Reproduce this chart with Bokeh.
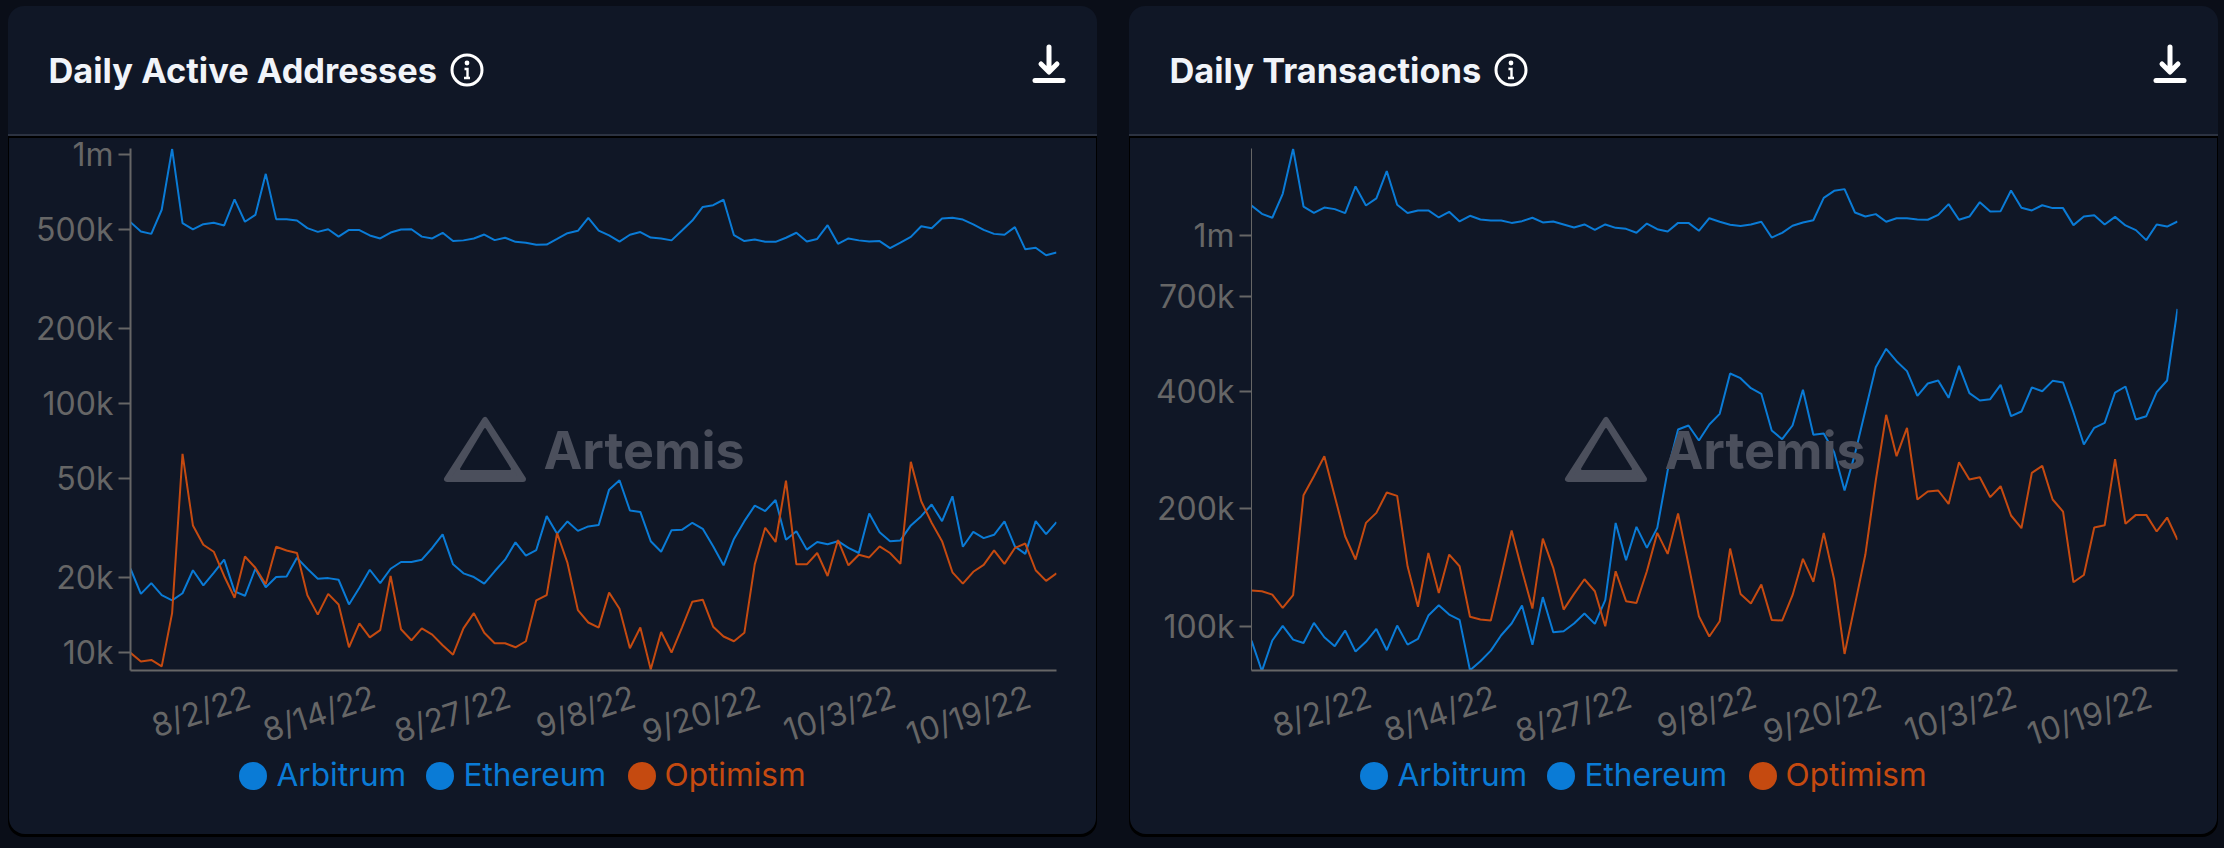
import math
from urllib.parse import quote
from bokeh.embed import file_html
from bokeh.resources import INLINE
from bokeh.layouts import row
from bokeh.plotting import figure
from bokeh.models import Label, FixedTicker

TITLES = ["Daily Active Addresses", "Daily Transactions"]
SERIES = ["Arbitrum", "Ethereum", "Optimism"]
DATE_TICKS = [11.4, 23.4, 36.4, 48.4, 60.4, 73.4, 86.4]
DATE_LABELS = ["8/2/22", "8/14/22", "8/27/22", "9/8/22", "9/20/22", "10/3/22", "10/19/22"]

addr_ticks = [10000, 20000, 50000, 100000, 200000, 500000, 1000000]
addr_labels = ["10k", "20k", "50k", "100k", "200k", "500k", "1m"]
tx_ticks = [100000, 200000, 400000, 700000, 1000000]
tx_labels = ["100k", "200k", "400k", "700k", "1m"]

addr_ethereum = [535000,491000,480000,600000,1054000,530000,500000,525000,532000,519000,660000,537000,572000,836000,550000,550000,543000,506000,489000,501000,468000,498000,497000,473000,460000,486000,500000,501000,468000,460000,485000,449000,452000,460000,477000,453000,463000,446000,442000,434000,435000,458000,483000,494000,557000,495000,473000,447000,476000,488000,464000,460000,452000,495000,543000,616000,626000,658000,474000,449000,456000,446000,446000,463000,485000,447000,458000,520000,438000,460000,452000,447000,449000,421000,443000,467000,515000,506000,553000,557000,548000,524000,498000,480000,476000,511000,416000,422000,394000,404000]
addr_arbitrum = [21700,17200,19000,17000,16200,17300,21400,18600,20900,23600,17600,16900,21700,18300,20100,20200,24000,21700,19800,19900,19600,15600,18200,21500,19000,21700,23100,23100,23600,26300,29800,22600,20800,20100,18900,21200,23600,27700,24500,25800,35300,30000,33600,30800,32100,32500,45100,49200,37200,36700,28000,25400,31000,31100,33200,31400,26700,22400,28600,33700,38900,37000,41000,28400,30700,25900,27800,27200,28000,26300,25100,36200,30400,28000,28200,32400,35300,39300,33700,42400,26600,30500,28800,29700,33600,26700,24900,33700,29900,33400]
addr_optimism = [9970,9200,9340,8800,14400,62800,32400,27100,25400,20300,16600,24300,21900,18800,26600,25700,25100,17000,14200,17200,15600,10500,13100,11500,12300,20300,12400,11200,12500,11800,10700,9800,12500,14400,12000,10900,10900,10500,11100,16200,17000,30200,22900,14800,13200,12600,17400,15000,10400,12600,8550,12100,10000,12600,16000,16300,12700,11600,11100,12000,22600,31700,27800,49000,22600,22600,25100,20300,28300,22400,24700,24100,26700,25100,22700,58300,40500,33200,28000,21000,18900,21100,22500,25700,22700,26300,27400,21400,19400,20800]

tx_ethereum = [1193000,1136000,1110000,1278000,1666000,1186000,1143000,1179000,1168000,1141000,1335000,1193000,1244000,1461000,1198000,1141000,1159000,1159000,1112000,1150000,1086000,1123000,1099000,1092000,1092000,1077000,1088000,1110000,1080000,1086000,1067000,1048000,1067000,1034000,1067000,1046000,1040000,1016000,1073000,1038000,1024000,1077000,1077000,1028000,1107000,1084000,1065000,1057000,1067000,1084000,988000,1016000,1059000,1080000,1094000,1248000,1301000,1314000,1145000,1118000,1134000,1084000,1107000,1107000,1099000,1097000,1129000,1203000,1097000,1118000,1217000,1152000,1154000,1303000,1177000,1159000,1195000,1175000,1175000,1063000,1118000,1127000,1067000,1116000,1061000,1032000,973000,1067000,1054000,1086000]
tx_arbitrum = [92100,76900,92100,100400,92600,90800,102200,93900,89100,97700,86300,91400,98600,87000,100600,89900,93000,106700,113400,107300,104000,77300,81500,86800,95000,101800,113200,89800,118900,96700,97300,101800,108000,101600,116800,184100,147800,179900,158900,178800,250600,319000,326700,299000,328600,349900,443700,431600,407000,393600,317100,301400,326700,403000,309200,311600,279200,222800,276400,356900,460500,513000,477100,449900,389000,418300,425800,384500,464200,395200,378500,381400,415000,345100,354700,408600,399800,424900,420800,353300,292100,322200,331800,396700,411000,338400,345100,397500,425800,649000]
tx_optimism = [123600,123100,120700,111600,120300,216700,242400,272700,215400,170200,148400,184100,195300,220100,215900,142600,112300,154300,121900,152800,142600,105900,104200,103600,134500,176000,139100,111200,167900,141300,110500,121200,132100,123100,100200,138500,116100,114900,138500,173600,153400,194500,144100,106300,94300,103200,158300,121200,114500,128100,104000,103600,120300,149000,130100,173600,131900,85100,113800,152800,236300,347800,272700,322200,211300,221500,222800,205900,263200,237700,240900,214200,228500,192300,178400,247200,257600,211300,196800,129800,135500,179200,181600,267900,183100,193000,193000,175000,190000,166600]

BLUE = "#0a7bd6"
ORANGE = "#c54a10"
PAGE = "#0a0e18"
CARD = "#101726"
GRAY = "#666666"
MARK = "#4b4f5c"
FONT = "Inter"
LEGEND_COLORS = [BLUE, BLUE, ORANGE]


def card_backdrop(dx, info_x):
    """Card, header rule, icons, watermark triangle and legend dots, as a CSS backdrop under the transparent canvas."""
    L, R = 8 + dx, 1097 + dx
    s = ['<svg xmlns="http://www.w3.org/2000/svg" width="1112" height="848">']
    s.append(f'<rect width="1112" height="848" fill="{PAGE}"/>')
    s.append(f'<rect x="{L}" y="100" width="{R - L}" height="737" rx="16" fill="#000"/>')
    s.append(f'<path d="M{L} 134V22a16 16 0 0 1 16-16H{R - 16}a16 16 0 0 1 16 16V134Z" fill="{CARD}"/>')
    s.append(f'<rect x="{L}" y="134" width="{R - L}" height="2" fill="#2c3342"/>')
    s.append(f'<path d="M{L + 1} 138H{R - 1}V818a16 16 0 0 1-16 16H{L + 17}a16 16 0 0 1-16-16Z" fill="{CARD}"/>')
    # watermark triangle
    s.append(f'<polygon points="{485 + dx},420 {447 + dx},479 {523 + dx},479" fill="{MARK}" stroke="{MARK}" stroke-width="6" stroke-linejoin="round"/>')
    s.append(f'<polygon points="{485 + dx},429 {461 + dx},469 {510 + dx},469" fill="{CARD}" stroke="{CARD}" stroke-width="2" stroke-linejoin="round"/>')
    # info icon
    s.append(f'<circle cx="{info_x}" cy="70" r="15" fill="none" stroke="#fff" stroke-width="3"/>')
    s.append(f'<circle cx="{info_x}" cy="63" r="2.4" fill="#fff"/>')
    s.append(f'<path d="M{info_x - 2.5} 69H{info_x + 0.5}V78H{info_x + 3}M{info_x - 3} 78H{info_x + 3}" fill="none" stroke="#fff" stroke-width="2.4"/>')
    # download icon
    s.append(f'<path d="M{1049 + dx} 47V71M{1041 + dx} 64L{1049 + dx} 72L{1057 + dx} 64" fill="none" stroke="#fff" stroke-width="5" stroke-linecap="round" stroke-linejoin="round"/>')
    s.append(f'<path d="M{1035 + dx} 80.5H{1063 + dx}" fill="none" stroke="#fff" stroke-width="5" stroke-linecap="round"/>')
    # legend dots
    for c, cx in zip(LEGEND_COLORS, [253, 440, 642]):
        s.append(f'<circle cx="{cx + dx}" cy="776" r="14" fill="{c}"/>')
    s.append('</svg>')
    return "url(\"data:image/svg+xml," + quote("".join(s)) + "\")"


def text(p, x, y, s, size, color, style="normal", side="above"):
    label = Label(x=x, y=y, x_units="canvas", y_units="canvas", text=s, text_font=FONT, text_font_size=f"{size}px",
                  text_color=color, text_font_style=style, text_baseline="alphabetic", text_align="left")
    if side == "center":
        p.add_layout(label)
    else:
        p.add_layout(label, side)


def chart(title, info_x, ymin, ymax, ticks, labels, arb, eth, opt, dx, frame_left, right_pad, yaxis_width):
    p = figure(width=1112, height=848, output_backend="svg", toolbar_location=None, y_axis_type="log",
               x_range=(0, 89), y_range=(ymin, ymax), frame_width=926, frame_height=522,
               min_border_left=frame_left, min_border_right=right_pad, min_border_top=148, min_border_bottom=178,
               background_fill_color=None, border_fill_color=None, outline_line_color=None,
               styles={"background-image": card_backdrop(dx, info_x), "background-repeat": "no-repeat"})
    p.grid.visible = False

    text(p, 543 + dx, 450, "Artemis", 52, MARK, "bold", "center")
    text(p, 48 + dx, 70, title, 34.4, "#f1f4f9", "bold")

    xs = list(range(len(arb)))
    p.line(xs, eth, line_color=BLUE, line_width=2)
    p.line(xs, arb, line_color=BLUE, line_width=2)
    p.line(xs, opt, line_color=ORANGE, line_width=2)

    sides = ["above", "above", "below"]
    for name, c, tx, side in zip(SERIES, LEGEND_COLORS, [276, 463, 664], sides):
        text(p, tx + dx, 773.5, name, 31.6, c, "normal", side)

    ax = p.xaxis[0]
    ax.ticker = FixedTicker(ticks=DATE_TICKS)
    ax.major_label_overrides = dict(zip(DATE_TICKS, DATE_LABELS))
    ax.major_label_orientation = math.radians(18)
    ax.major_tick_line_color = None
    ax.minor_tick_line_color = None
    ax.axis_line_color = GRAY
    ax.axis_line_width = 2
    ax.major_label_text_font = FONT
    ax.major_label_text_font_size = "32px"
    ax.major_label_text_color = GRAY
    ax.major_label_standoff = 19

    ay = p.yaxis[0]
    ay.ticker = FixedTicker(ticks=ticks)
    ay.major_label_overrides = {t: s for t, s in zip(ticks, labels)}
    ay.minor_tick_line_color = None
    ay.major_tick_in = 0
    ay.major_tick_out = 12
    ay.major_tick_line_color = GRAY
    ay.major_tick_line_width = 2
    ay.axis_line_color = GRAY
    ay.axis_line_width = yaxis_width
    ay.major_label_text_font = FONT
    ay.major_label_text_font_size = "32px"
    ay.major_label_text_color = GRAY
    ay.major_label_standoff = 5
    return p


p1 = chart(TITLES[0], 467, 8470, 1057000, addr_ticks, addr_labels, addr_arbitrum, addr_ethereum, addr_optimism, 0, 130, 56, 2)
p2 = chart(TITLES[1], 399, 77200, 1669000, tx_ticks, tx_labels, tx_arbitrum, tx_ethereum, tx_optimism, 9, 139, 47, 1)
layout = row(p1, p2, styles={"background-color": PAGE})
open("out.html", "w").write(file_html(layout, INLINE))
